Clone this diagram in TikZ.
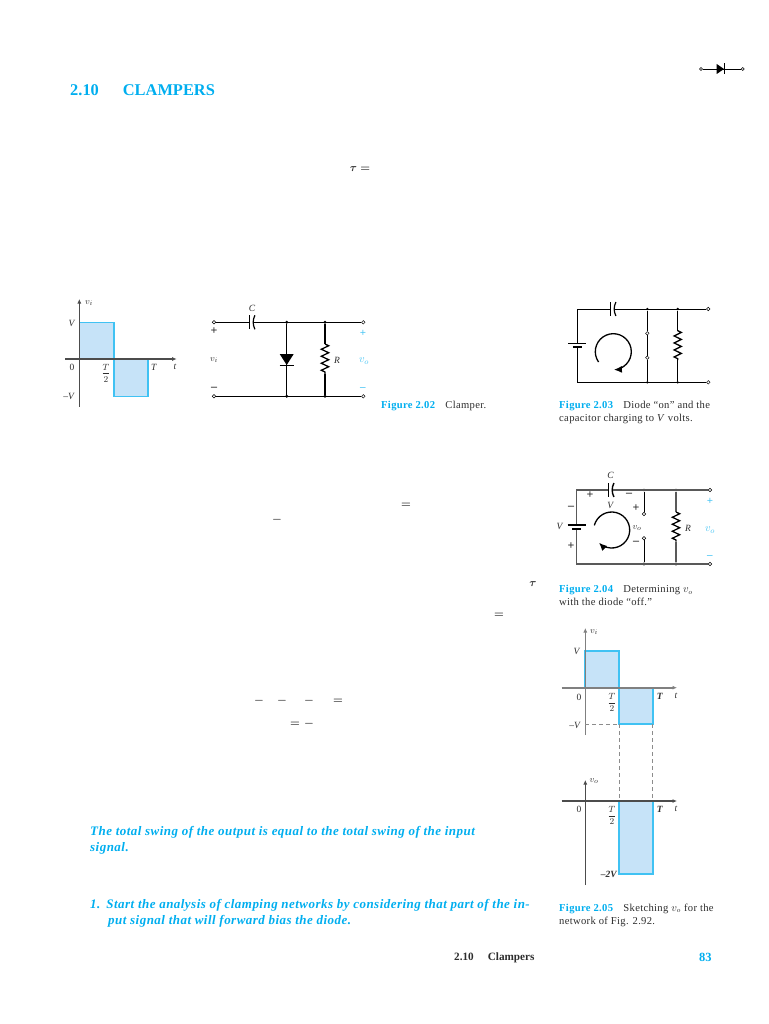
\documentclass[tikz,border=0pt]{standalone}
\usepackage{amsmath}
\usepackage{fontspec}
\setmainfont{Liberation Serif}
\usepackage{xcolor}
\usepackage{tikz}
\usetikzlibrary{positioning,calc,arrows.meta,decorations.pathmorphing}
\definecolor{headblue}{RGB}{0,174,239}
\definecolor{fillblue}{RGB}{198,227,248}
\definecolor{inkgrey}{RGB}{45,45,45}
\tikzset{
	wire/.style={draw=black, line width=0.8pt},
	axisline/.style={draw=black!70, line width=1.1pt, -{Latex[length=4.5pt,width=4pt]}},
	grayaxis/.style={axisline, draw=black!50, line width=1.6pt},
	pulse/.style={draw=headblue!75, fill=fillblue, line width=1.3pt},
	widepulse/.style={pulse, line width=1.9pt},
	guide/.style={draw=black!45, line width=1.3pt, dash pattern=on 4pt off 3pt},
	term/.style={circle, draw=black, fill=white, inner sep=0pt, minimum size=3.5pt, line width=0.5pt},
	jdot/.style={circle, fill=black, inner sep=0pt, minimum size=3.2pt},
	plate/.style={draw=black, line width=1.2pt},
	resistorline/.style={draw=black, line width=1.3pt, decorate, decoration={zigzag, segment length=7pt, amplitude=3.6pt}},
	loopline/.style={draw=black, line width=1.3pt, -{Latex[length=8pt,width=7pt]}},
	lab/.style={inner sep=0pt, text=inkgrey, font=\fontsize{9.5}{10}\selectfont},
	signlab/.style={lab, font=\fontsize{12}{12}\selectfont\bfseries},
	bluelab/.style={inner sep=0pt, text=headblue!70, font=\fontsize{11}{11}\selectfont},
	caption/.style={inner sep=0pt, anchor=west, align=left, text=inkgrey, font=\fontsize{10.6}{13}\selectfont\addfontfeature{LetterSpace=3}},
	rule/.style={inner sep=0pt, anchor=west, align=left, text=headblue, font=\fontsize{13}{16}\selectfont\bfseries\itshape\addfontfeature{LetterSpace=3.6}},
	eqn/.style={inner sep=0pt, text=inkgrey, font=\fontsize{11}{12}\selectfont\boldmath},
}
\newcommand{\figtag}[1]{\textcolor{headblue}{\textbf{Figure #1}}\hspace{10pt}}
\begin{document}
\begin{tikzpicture}[x=1pt,y=-1pt]
	\useasboundingbox (0,0) rectangle (768,1024);
	\node[inner sep=0pt, anchor=west, text=headblue, font=\fontsize{16.4}{17}\selectfont\bfseries] (head) at (70,90.5) {2.10\hspace{24pt}CLAMPERS};

	% diode icon
	\node[term, minimum size=3pt] (icona) at (701,69) {};
	\node[term, minimum size=3pt] (iconb) at (742.7,69) {};
	\coordinate (iconl) at (716.7,69);
	\coordinate (iconr) at (724,69);
	\draw[wire] (icona) -- (iconb);
	\fill (iconl) ++(0,-5) -- (iconr) -- (716.7,74) -- cycle;
	\draw[line width=0.8pt] ($(iconr)+(0,-5.5)$) -- ($(iconr)+(0,5.5)$);

	% input wave
	\draw[pulse] (79.3,359) -- (79.3,322.3) -- (114,322.3) -- (114,359) -- cycle;
	\draw[pulse] (114,359) -- (114,396.3) -- (148,396.3) -- (148,359) -- cycle;
	\coordinate (wa1) at (79.3,406.7);
	\coordinate (wa2) at (79.3,299);
	\coordinate (wa3) at (65,359);
	\coordinate (wa4) at (176.7,359);
	\draw[axisline] (wa1) -- (wa2);
	\draw[axisline] (wa3) -- (wa4);
	\node[lab] (wv) at (89,303) {$v_i$};
	\node[lab] (wV) at (72,323) {\textit{V}};
	\node[lab] (w0) at (72,367) {0};
	\node[lab] (wT2) at (106,373) {$\dfrac{T}{2}$};
	\node[lab] (wT) at (154,367) {\textit{T}};
	\node[lab] (wt) at (175,367) {\textit{t}};
	\node[lab] (wmV) at (69,396) {\textit{–V}};

	% clamper
	\node[term] (ina) at (214,322.3) {};
	\node[term] (inb) at (214,396.3) {};
	\node[term] (outa) at (363.3,322.3) {};
	\node[term] (outb) at (363.3,396.3) {};
	\node[jdot] (d1) at (286.7,322.3) {};
	\node[jdot] (d2) at (286.7,396.3) {};
	\node[jdot] (r1) at (325,322.3) {};
	\node[jdot] (r2) at (325,396.3) {};
	\coordinate (c1) at (249.7,322.3);
	\coordinate (c2) at (253.7,322.3);
	\coordinate (rt) at (325,344);
	\coordinate (rb) at (325,374);
	\coordinate (dt) at (286.7,354);
	\coordinate (db) at (286.7,365);
	\draw[wire] (ina) -- (c1);
	\draw[wire] (c2) -- (outa);
	\draw[wire] (inb) -- (outb);
	\draw[wire, line width=1.2pt] (d1) -- (d2);
	\draw[plate] ($(c1)+(0,-7)$) -- ($(c1)+(0,7)$);
	\draw[plate] ($(c2)+(1.2,-7)$) to[bend right=25] ($(c2)+(1.2,7)$);
	\fill ($(dt)+(-7,0)$) -- ($(dt)+(7,0)$) -- (db) -- cycle;
	\draw[line width=1pt] ($(db)+(-7,0)$) -- ($(db)+(7,0)$);
	\draw[wire, line width=1.1pt] (r1) -- (rt);
	\draw[wire, line width=1.1pt] (rb) -- (r2);
	\draw[resistorline] (rt) -- (rb);
	\node[lab] (cC) at (252,308) {\textit{C}};
	\node[signlab] (cp) at (214,331) {+};
	\node[lab] (cv) at (214,360) {$v_i$};
	\node[signlab] (cm) at (214,389) {–};
	\node[lab] (cR) at (337,360) {\textit{R}};
	\node[bluelab] (op) at (363,333) {\textbf{+}};
	\node[bluelab] (ov) at (364,361) {$v_o$};
	\node[bluelab] (om) at (363,389) {\textbf{–}};
	\node[caption] (cap2) at (381,405.5) {\figtag{2.02}Clamper.};

	% diode on
	\coordinate (p1) at (577.3,309);
	\coordinate (p2) at (577.3,382.3);
	\coordinate (pb1) at (577.3,343.3);
	\coordinate (pb2) at (577.3,347);
	\coordinate (pc1) at (610.7,309);
	\coordinate (pc2) at (614.7,309);
	\node[term] (pta) at (708.3,309) {};
	\node[term] (ptb) at (708.3,382.3) {};
	\node[jdot, minimum size=2.6pt] (pj1) at (647.3,309) {};
	\node[jdot, minimum size=2.6pt] (pj2) at (647.3,382.3) {};
	\node[jdot, minimum size=2.6pt] (pr1) at (677.7,309) {};
	\node[jdot, minimum size=2.6pt] (pr2) at (677.7,382.3) {};
	\node[term] (ps1) at (647.3,333.3) {};
	\node[term] (ps2) at (647.3,357.7) {};
	\coordinate (prt) at (677.7,330.7);
	\coordinate (prb) at (677.7,360);
	\draw[wire] (pb1) -- (p1) -- (pc1);
	\draw[wire] (pc2) -- (pta);
	\draw[wire] (pb2) -- (p2) -- (ptb);
	\draw[wire] (pj1) -- (ps1) -- (ps2) -- (pj2);
	\draw[wire] (pr1) -- (prt);
	\draw[wire] (prb) -- (pr2);
	\draw[resistorline] (prt) -- (prb);
	\draw[plate] ($(pb1)+(-9,0)$) -- ($(pb1)+(9,0)$);
	\draw[plate, line width=1.8pt] ($(pb2)+(-4.5,0)$) -- ($(pb2)+(4.5,0)$);
	\draw[plate] ($(pc1)+(0,-7)$) -- ($(pc1)+(0,7)$);
	\draw[plate] ($(pc2)+(1.2,-7)$) to[bend right=25] ($(pc2)+(1.2,7)$);
	\coordinate (ploop) at (613.3,351.7);
	\draw[loopline] ($(ploop)+(-215:18)$) arc[start angle=-215, end angle=88, radius=18];
	\node[caption] (cap3) at (559,412.5) {\figtag{2.03}Diode “on” and the\\capacitor charging to \textit{V} volts.};

	% diode off
	\coordinate (q1) at (576.7,490);
	\coordinate (q2) at (576.7,564);
	\coordinate (qb1) at (576.7,525);
	\coordinate (qb2) at (576.7,529.3);
	\coordinate (qc1) at (608.7,490);
	\coordinate (qc2) at (612.7,490);
	\node[term] (qta) at (710,490) {};
	\node[term] (qtb) at (710,564) {};
	\node[jdot, minimum size=2.6pt] (qj1) at (644,490) {};
	\node[jdot, minimum size=3.4pt] (qj2) at (644,564) {};
	\node[jdot, minimum size=2.6pt] (qr1) at (676,490) {};
	\node[jdot, minimum size=3.4pt] (qr2) at (676,564) {};
	\node[term] (qs1) at (644,514) {};
	\node[term] (qs2) at (644,538.3) {};
	\coordinate (qrt) at (676,512);
	\coordinate (qrb) at (676,541.7);
	\draw[wire, draw=black!65, line width=1.4pt] (qb1) -- (q1) -- (qc1);
	\draw[wire, draw=black!65, line width=1.4pt] (qc2) -- (qta);
	\draw[wire, draw=black!65, line width=1.4pt] (qb2) -- (q2) -- (qtb);
	\draw[wire] (qj1) -- (qs1);
	\draw[wire] (qs2) -- (qj2);
	\draw[wire, draw=black!65, line width=1.4pt] (qr1) -- (qrt);
	\draw[wire, draw=black!65, line width=1.4pt] (qrb) -- (qr2);
	\draw[resistorline] (qrt) -- (qrb);
	\draw[plate] ($(qb1)+(-9,0)$) -- ($(qb1)+(9,0)$);
	\draw[plate, line width=1.8pt] ($(qb2)+(-4.5,0)$) -- ($(qb2)+(4.5,0)$);
	\draw[plate, line width=1.4pt] ($(qc1)+(0,-7)$) -- ($(qc1)+(0,7)$);
	\draw[plate, line width=1.4pt] ($(qc2)+(1.2,-7)$) to[bend right=25] ($(qc2)+(1.2,7)$);
	\coordinate (qloop) at (611.7,530);
	\draw[loopline] ($(qloop)+(-165:18)$) arc[start angle=-165, end angle=135, radius=18];
	\node[lab] (qC) at (610.7,475) {\textit{C}};
	\node[lab] (qVc) at (610.7,505) {\textit{V}};
	\node[lab] (qV) at (560,526) {\textit{V}};
	\node[lab] (qR) at (688,528) {\textit{R}};
	\node[lab] (qvo) at (637,528) {$v_o$};
	\node[signlab] (qp1) at (590,495) {+};
	\node[signlab] (qm1) at (629,495) {–};
	\node[signlab] (qm2) at (571,508) {–};
	\node[signlab] (qp2) at (636,508) {+};
	\node[signlab] (qp3) at (571,546) {+};
	\node[signlab] (qm3) at (636,543) {–};
	\node[bluelab] (qop) at (710,501) {\textbf{+}};
	\node[bluelab] (qov) at (710,530) {$v_o$};
	\node[bluelab] (qom) at (710,557) {\textbf{–}};
	\node[caption] (cap4) at (559,595.5) {\figtag{2.04}Determining $v_o$\\with the diode “off.”};

	% input and output waves
	\draw[widepulse] (585.3,687.7) -- (585.3,651) -- (619.3,651) -- (619.3,687.7) -- cycle;
	\draw[widepulse] (619.3,687.7) -- (619.3,724.3) -- (652.7,724.3) -- (652.7,687.7) -- cycle;
	\draw[widepulse] (619.3,801) -- (619.3,874.3) -- (652.7,874.3) -- (652.7,801) -- cycle;
	\coordinate (ua1) at (585.3,735);
	\coordinate (ua2) at (585.3,628);
	\coordinate (ua3) at (561.7,687.7);
	\coordinate (ua4) at (677,687.7);
	\coordinate (la1) at (585.3,885);
	\coordinate (la2) at (585.3,780);
	\coordinate (la3) at (561.7,801);
	\coordinate (la4) at (677,801);
	\draw[grayaxis] (ua1) -- (ua2);
	\draw[grayaxis] (ua3) -- (ua4);
	\draw[axisline] (la1) -- (la2);
	\draw[axisline] (la3) -- (la4);
	\draw[guide] (585.3,724.3) -- (619.3,724.3);
	\draw[guide] (619.3,724.3) -- (619.3,801);
	\draw[guide] (652.7,724.3) -- (652.7,801);
	\node[lab] (uv) at (594,632) {$v_i$};
	\node[lab] (uV) at (577,651) {\textit{V}};
	\node[lab] (u0) at (579,697) {0};
	\node[lab] (uT2) at (612,702) {$\dfrac{T}{2}$};
	\node[lab] (uT) at (660,696) {\textit{\textbf{T}}};
	\node[lab] (ut) at (676,696) {\textit{t}};
	\node[lab] (umV) at (575,725) {\textit{–V}};
	\node[lab] (lv) at (594,781) {$v_o$};
	\node[lab] (l0) at (579,809) {0};
	\node[lab] (lT2) at (612,815) {$\dfrac{T}{2}$};
	\node[lab] (lT) at (660,809) {\textit{\textbf{T}}};
	\node[lab] (lt) at (676,809) {\textit{t}};
	\node[lab, anchor=east, font=\fontsize{9.5}{10}\selectfont\bfseries\itshape] (lmV) at (617,874) {–2V};
	\node[caption] (cap5) at (559,915) {\figtag{2.05}Sketching $v_o$ for the\\network of Fig. 2.92.};

	% page text
	\node[eqn] (e1) at (360,169) {$\tau=$};
	\node[eqn] (e2) at (406,505) {$=$};
	\node[eqn] (e3) at (277,520) {$-$};
	\node[eqn] (e4) at (533,584) {$\tau$};
	\node[eqn] (e5) at (499,615) {$=$};
	\node[eqn] (e6) at (259,701) {$-$};
	\node[eqn] (e7) at (282,701) {$-$};
	\node[eqn] (e8) at (309,701) {$-$};
	\node[eqn] (e9) at (338,701) {$=$};
	\node[eqn] (e10) at (295,724) {$=$};
	\node[eqn] (e11) at (309,724) {$-$};
	\node[rule] (rule1) at (90,840) {The total swing of the output is equal to the total swing of the input\\signal.};
	\node[rule, align=left] (rule2) at (90,913) {1.\hspace{6pt}Start the analysis of clamping networks by considering that part of the in-\\\hspace{18pt}put signal that will forward bias the diode.};
	\node[inner sep=0pt, anchor=west, text=inkgrey, font=\fontsize{11.2}{12}\selectfont\bfseries] (foot) at (454,958) {2.10\hspace{14pt}Clampers};
	\node[inner sep=0pt, anchor=west, text=headblue, font=\fontsize{12.5}{13}\selectfont\bfseries] (page) at (699,957) {83};
\end{tikzpicture}
\end{document}
